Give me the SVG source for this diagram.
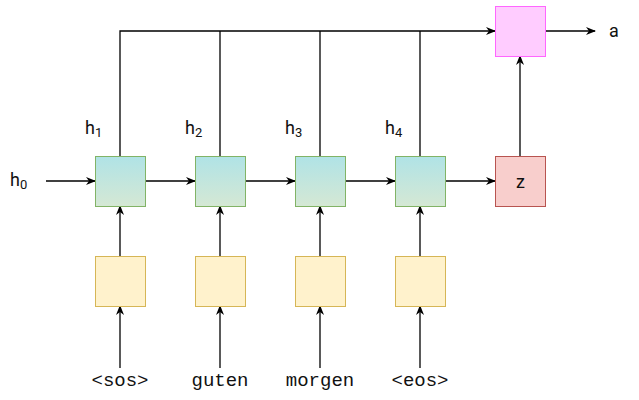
<svg xmlns="http://www.w3.org/2000/svg" width="639" height="400" viewBox="0 0 639 400">
<defs>
<linearGradient id="g" x1="0" y1="0" x2="0" y2="1"><stop offset="0" stop-color="#b0e3e6"/><stop offset="1" stop-color="#d5e8d4"/></linearGradient>
<marker id="ar" markerWidth="10" markerHeight="8" refX="9" refY="4" orient="auto" markerUnits="userSpaceOnUse"><path d="M0,0 L10,4 L0,8 L3,4 Z" fill="#000"/></marker>
<style>
.gr{fill:url(#g);stroke:#82b366}
.ye{fill:#fff2cc;stroke:#d6b656}
.c line,.c path{stroke:#000;stroke-width:1.3;fill:none}
.a{marker-end:url(#ar)}
text{font-family:"Liberation Mono","DejaVu Sans Mono",monospace;font-size:19px;fill:#111}
.s{font-family:"Roboto","Liberation Sans",sans-serif;font-size:18px}
</style>
</defs>
<rect width="639" height="400" fill="#fff"/>
<g class="c">
<line class="a" x1="46" y1="181" x2="95" y2="181"/>
<line class="a" x1="145" y1="181" x2="195" y2="181"/>
<line class="a" x1="245" y1="181" x2="295" y2="181"/>
<line class="a" x1="345" y1="181" x2="395" y2="181"/>
<line class="a" x1="445" y1="181" x2="495" y2="181"/>
<path class="a" d="M120,156 V31 H495"/>
<line x1="220" y1="156" x2="220" y2="31"/>
<line x1="320" y1="156" x2="320" y2="31"/>
<line x1="420" y1="156" x2="420" y2="31"/>
<line class="a" x1="520" y1="156" x2="520" y2="56"/>
<line class="a" x1="545" y1="31" x2="595" y2="31"/>
<line class="a" x1="120" y1="256" x2="120" y2="206"/>
<line class="a" x1="220" y1="256" x2="220" y2="206"/>
<line class="a" x1="320" y1="256" x2="320" y2="206"/>
<line class="a" x1="420" y1="256" x2="420" y2="206"/>
<line class="a" x1="120" y1="368" x2="120" y2="306"/>
<line class="a" x1="220" y1="368" x2="220" y2="306"/>
<line class="a" x1="320" y1="368" x2="320" y2="306"/>
<line class="a" x1="420" y1="368" x2="420" y2="306"/>
</g>
<g id="enc1"><rect class="gr" x="95.5" y="156.5" width="50" height="50"/></g>
<g id="enc2"><rect class="gr" x="195.5" y="156.5" width="50" height="50"/></g>
<g id="enc3"><rect class="gr" x="295.5" y="156.5" width="50" height="50"/></g>
<g id="enc4"><rect class="gr" x="395.5" y="156.5" width="50" height="50"/></g>
<g id="z"><rect x="495.5" y="156.5" width="50" height="50" fill="#f8cecc" stroke="#b85450"/><text x="520.5" y="188" text-anchor="middle" class="s">z</text></g>
<g id="out"><rect x="495.5" y="6.5" width="50" height="50" fill="#ffccff" stroke="#ff66ff"/></g>
<g id="emb1"><rect class="ye" x="95.5" y="256.5" width="50" height="50"/></g>
<g id="emb2"><rect class="ye" x="195.5" y="256.5" width="50" height="50"/></g>
<g id="emb3"><rect class="ye" x="295.5" y="256.5" width="50" height="50"/></g>
<g id="emb4"><rect class="ye" x="395.5" y="256.5" width="50" height="50"/></g>
<g id="labels">
<text x="10" y="186" class="s">h<tspan font-size="13" dy="3">0</tspan></text>
<text x="85" y="134" class="s">h<tspan font-size="13" dy="3">1</tspan></text>
<text x="185" y="134" class="s">h<tspan font-size="13" dy="3">2</tspan></text>
<text x="285" y="134" class="s">h<tspan font-size="13" dy="3">3</tspan></text>
<text x="385" y="134" class="s">h<tspan font-size="13" dy="3">4</tspan></text>
<text x="609" y="37" class="s">a</text>
<text x="120" y="386" text-anchor="middle">&lt;sos&gt;</text>
<text x="220" y="386" text-anchor="middle">guten</text>
<text x="320" y="386" text-anchor="middle">morgen</text>
<text x="420" y="386" text-anchor="middle">&lt;eos&gt;</text>
</g>
</svg>
